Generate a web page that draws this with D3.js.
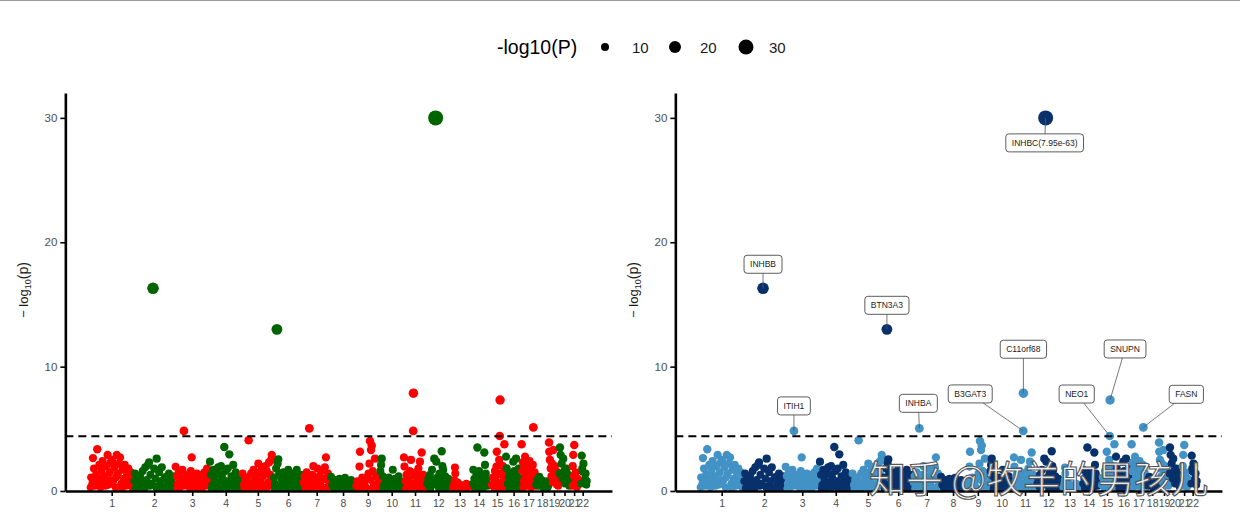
<!DOCTYPE html>
<html>
<head>
<meta charset="utf-8">
<script src="https://cdn.jsdelivr.net/npm/d3@7"></script>
<style>
  body { margin: 0; background: #fff; }
  svg { display: block; font-family: "Liberation Sans", Arial, sans-serif; }
</style>
</head>
<body>
<div id="grafica"></div>
<script>
// datos: cromosomas (GRCh37, Mb)
const chrNames = ["1","2","3","4","5","6","7","8","9","10","11","12","13","14","15","16","17","18","19","20","21","22"];
const chrLengths = [249.25,243.2,198.0,191.15,180.9,171.1,159.1,146.4,141.2,135.5,135.0,133.85,115.2,107.35,102.5,90.35,81.2,78.1,59.1,63.0,48.1,51.3];

// SNPs por cromosoma: [posicion en Mb, -log10(p)]
const chrSnps = [
  [[5,1.1],[12,0.6],[16,2.65],[22,1.8],[28,0.4],[34,1.3],[41,3.35],[47,0.9],[53,2.1],[60,0.3],[66,1.6],[72,2.4],[79,0.7],[85,1.2],[92,2.0],[101,2.9],[108,0.5],[114,1.5],[120,2.3],[126,2.5],[133,0.8],[140,1.9],[147,0.3],[154,2.9],[160,1.4],[166,2.2],[173,2.7],[180,0.6],[187,1.7],[194,1.0],[200,2.1],[207,0.4],[214,1.3],[221,1.8],[228,0.7],[235,1.5],[242,0.9],[247,0.2],[2,0.3],[20,0.8],[38,0.5],[57,1.0],[88,0.4],[117,0.9],[150,1.1],[184,0.2],[211,0.9],[238,0.4]],
  [[6,0.8],[11,1.4],[18,0.3],[25,1.0],[32,0.5],[40,1.2],[48,0.7],[55,1.6],[62,0.4],[70,1.9],[78,0.9],[86,2.1],[92,2.3],[100,1.3],[108,0.6],[115,16.3],[122,1.8],[129,1.0],[136,2.6],[143,0.4],[150,1.5],[158,0.8],[166,1.9],[174,0.3],[182,1.1],[191,1.15],[199,0.6],[207,1.4],[215,0.3],[223,0.9],[231,1.2],[239,0.5],[14,0.2],[36,0.3],[66,0.2],[96,0.4],[133,0.3],[162,0.2],[195,0.3],[227,0.2]],
  [[3,1.95],[9,1.2],[15,0.6],[21,1.5],[28,0.3],[35,1.0],[42,1.7],[51,4.83],[56,0.8],[63,1.3],[70,0.4],[77,1.1],[84,0.7],[91,1.6],[96,2.7],[104,0.5],[111,1.2],[118,0.9],[126,1.4],[133,0.3],[140,1.0],[148,0.6],[155,1.3],[162,0.8],[170,1.5],[178,0.4],[185,1.8],[191,1.1],[196,0.6],[12,0.2],[46,0.4],[88,0.2],[122,0.3],[152,0.2],[174,0.9]],
  [[4,2.36],[10,1.3],[17,0.5],[24,1.7],[31,0.9],[38,1.4],[45,0.3],[52,1.9],[58,0.7],[62,1.35],[68,2.0],[75,1.1],[81,0.4],[87,3.54],[94,1.6],[100,0.8],[107,1.8],[116,2.95],[122,0.6],[128,1.2],[133,0.3],[139,2.1],[146,0.9],[153,1.5],[160,0.4],[167,1.0],[174,0.6],[181,0.3],[188,0.8],[14,0.2],[35,0.3],[72,0.3],[111,0.2],[143,0.3],[171,0.2]],
  [[2,1.4],[9,0.5],[16,0.9],[23,0.3],[30,1.1],[37,4.08],[44,0.6],[51,1.4],[58,0.4],[65,1.7],[72,0.9],[79,1.2],[86,0.5],[93,2.2],[100,1.5],[107,0.8],[114,1.9],[121,1.2],[128,0.4],[135,2.0],[142,1.6],[149,0.7],[155,2.3],[162,1.3],[168,2.5],[171,2.9],[176,1.0],[179,0.5],[12,0.2],[48,0.2],[82,0.3],[118,0.2],[145,0.3],[165,0.9]],
  [[3,1.1],[9,0.6],[15,1.8],[20,13.0],[24,2.2],[28,2.55],[33,1.4],[39,0.4],[45,1.0],[51,0.7],[57,1.5],[63,0.3],[69,1.1],[75,0.8],[81,1.3],[86,1.7],[92,0.5],[98,1.2],[104,0.9],[110,0.4],[116,1.4],[122,0.7],[128,1.1],[135,1.7],[141,0.5],[147,1.0],[153,0.3],[159,1.3],[165,0.8],[169,0.5],[6,0.2],[36,0.2],[66,0.2],[101,0.2],[131,0.3],[156,0.2]],
  [[3,0.7],[9,1.2],[15,0.4],[21,1.5],[27,0.9],[33,0.3],[37,5.04],[42,1.0],[48,0.6],[54,1.3],[60,2.0],[66,0.5],[72,1.1],[78,0.8],[84,1.8],[90,0.4],[96,1.2],[102,0.7],[108,1.6],[114,0.3],[120,1.0],[127,1.9],[133,2.7],[139,0.9],[145,1.4],[151,0.5],[156,0.8],[12,0.2],[45,0.2],[81,0.2],[117,0.2],[142,0.3]],
  [[4,1.15],[10,0.5],[17,0.8],[24,0.3],[31,0.9],[38,0.4],[45,0.7],[52,1.0],[59,0.3],[66,0.6],[73,0.9],[80,0.4],[85,1.07],[92,0.6],[99,0.3],[106,0.8],[113,0.5],[120,0.9],[127,0.3],[134,0.6],[141,0.4],[20,0.2],[48,0.1],[77,0.2],[110,0.1],[137,0.2]],
  [[3,0.4],[9,0.8],[15,0.3],[22,1.96],[25,3.16],[31,0.6],[38,1.1],[45,0.4],[52,0.7],[60,0.3],[67,1.0],[74,1.4],[80,2.2],[83,4.02],[86,0.9],[89,3.3],[93,3.65],[99,1.6],[105,0.5],[112,2.6],[118,1.2],[124,0.4],[130,0.9],[136,0.5],[28,0.2],[56,0.2],[96,0.2],[121,0.2]],
  [[2,1.6],[6,2.1],[10,2.6],[16,1.2],[23,0.5],[30,0.9],[37,0.3],[44,0.7],[51,1.1],[58,0.4],[65,0.8],[74,1.7],[80,0.5],[87,1.0],[94,0.3],[101,0.7],[108,1.2],[115,0.4],[122,0.8],[129,0.5],[134,0.3],[20,0.2],[48,0.2],[84,0.2],[112,0.2]],
  [[3,2.7],[6,1.96],[12,0.8],[18,1.3],[24,0.4],[30,1.0],[37,1.6],[44,2.5],[50,0.6],[57,4.83],[58,7.86],[63,1.2],[69,0.5],[75,1.5],[81,0.9],[87,1.8],[92,0.3],[96,2.36],[101,1.1],[106,3.1],[111,0.6],[115,1.3],[121,0.8],[127,0.4],[132,1.0],[15,0.2],[40,0.3],[66,0.2],[90,0.9],[118,0.2]],
  [[3,0.6],[9,1.0],[14,0.4],[19,1.3],[25,0.8],[31,1.7],[37,0.5],[44,2.6],[52,30],[56,2.36],[62,1.1],[68,0.6],[74,1.4],[80,0.9],[87,3.2],[91,2.0],[96,1.7],[102,0.5],[108,1.2],[114,0.8],[120,0.3],[126,1.0],[131,0.6],[22,0.2],[48,0.9],[71,0.2],[99,0.2],[117,0.2]],
  [[20,0.3],[26,0.6],[28,0.88],[30,1.88],[32,1.4],[38,0.4],[46,0.7],[55,0.3],[64,0.5],[73,0.2],[82,0.4],[88,0.35],[96,0.6],[104,0.3],[111,0.5],[42,0.2],[60,0.1],[92,0.2]],
  [[20,0.6],[21,1.7],[27,1.0],[33,0.4],[39,1.3],[45,3.5],[50,0.8],[55,1.6],[60,1.15],[66,0.5],[72,1.2],[78,0.7],[85,3.1],[89,2.1],[94,1.4],[99,0.9],[104,0.4],[30,0.2],[63,0.2],[82,0.3]],
  [[21,0.5],[27,1.1],[33,0.4],[39,1.6],[44,0.8],[48,1.96],[50,3.16],[55,1.3],[60,0.6],[64,2.5],[67,4.42],[69,7.32],[74,1.4],[79,0.7],[84,2.0],[89,1.1],[94,3.75],[98,0.5],[101,1.5],[36,0.2],[58,0.2],[86,0.3]],
  [[1,2.76],[5,1.82],[11,0.6],[17,1.1],[24,1.4],[30,0.4],[36,0.9],[43,2.36],[49,1.6],[54,0.5],[59,2.6],[64,1.2],[70,0.7],[75,1.8],[81,0.4],[86,1.0],[20,0.2],[46,0.2],[67,0.2]],
  [[1,3.75],[5,1.6],[9,2.3],[13,0.8],[17,1.9],[21,2.76],[25,1.3],[28,2.0],[31,2.2],[35,1.0],[39,1.7],[43,0.5],[47,2.4],[51,1.2],[55,1.8],[59,0.7],[63,1.4],[66,2.1],[69,5.12],[73,0.9],[77,1.5],[80,0.4],[11,0.3],[33,0.4],[57,0.3]],
  [[3,0.5],[10,0.9],[17,0.4],[23,1.15],[30,0.6],[37,0.88],[44,0.3],[51,0.7],[58,0.4],[65,0.8],[72,0.3],[76,0.5]],
  [[1,3.9],[2,3.16],[6,2.5],[10,1.8],[14,1.2],[18,2.2],[22,0.7],[26,3.3],[30,1.5],[34,2.0],[38,0.9],[42,1.6],[46,0.5],[50,1.1],[54,0.4],[57,0.8]],
  [[3,1.4],[5,3.5],[9,2.9],[15,2.2],[20,1.0],[24,2.6],[29,1.6],[34,0.6],[39,1.2],[44,1.8],[49,0.8],[54,1.3],[59,0.4],[62,0.9]],
  [[15,0.4],[16,2.0],[19,2.9],[22,1.2],[25,3.7],[29,0.6],[33,1.5],[37,0.8],[41,0.3],[45,1.0]],
  [[17,0.6],[20,2.84],[23,1.8],[26,1.55],[30,2.2],[34,0.7],[39,1.0],[43,1.4],[47,0.5],[50,0.8]]
];

// genes anotados (panel derecho)
const labelText = ["INHBC(7.95e-63)","INHBB","BTN3A3","ITIH1","INHBA","B3GAT3","C11orf68","NEO1","SNUPN","FASN"];
const labelChr  = [12, 2, 6, 3, 7, 11, 11, 15, 15, 17];
const labelPos  = [52, 115, 20, 51, 37, 57, 58, 67, 69, 69];
const labelLogP = [30, 16.3, 13.0, 4.83, 5.04, 4.83, 7.86, 4.42, 7.32, 5.12];
// desplazamiento de las etiquetas (px) como las coloca ggrepel
const labelDx = [-1, 0, 0, 0, -1, -53, 0, -33, 15, 43];
const labelDy = [25, -24, -24, -25, -25, -37, -44, -42, -51, -33];

const legendValues = [10, 20, 30];
const yTicks = [0, 10, 20, 30];
const threshold = 4.41;

// parametros de la grafica
const W = 1240, H = 529;
const panelTop = 93, panelBottom = 491;
const panelLeft = 65.35, panelRight = 611.95;
const panelOffset = 610;

const leftColors = ["#FF0000", "#006400"];
const rightColors = ["#4292C6", "#08306B"];

const chrStart = [0].concat(Array.from(d3.cumsum(chrLengths))).slice(0, chrLengths.length);
const genomeLength = d3.sum(chrLengths);
const chrCenter = chrLengths.map((l, i) => chrStart[i] + l / 2);
const expand = genomeLength * 0.05;

const points = [];
chrSnps.forEach((arr, i) => {
  arr.forEach(d => points.push({ chr: i, bp: chrStart[i] + d[0], logp: d[1] }));
});

const yScale = d3.scaleLinear().domain([0, 32]).range([panelBottom, panelTop]);
const rScale = d3.scaleLinear().domain([0, 30]).range([3.8, 7.5]);
// radios de la leyenda
const legendR = d3.scaleSqrt().domain([10, 30]).range([4, 7.5]);

const svg = d3.select("#grafica").append("svg")
  .attr("width", W).attr("height", H);

svg.append("line")
  .attr("x1", 0).attr("x2", W).attr("y1", 0.5).attr("y2", 0.5)
  .attr("stroke", "#9a9a9a").attr("stroke-width", 1);

function drawPanel(offset, colors, withLabels, id) {
  const xScale = d3.scaleLinear()
    .domain([-expand, genomeLength + expand])
    .range([panelLeft + offset, panelRight + offset]);

  const g = svg.append("g");

  g.append("clipPath").attr("id", "clip" + id)
    .append("rect")
    .attr("x", panelLeft + offset).attr("y", panelTop)
    .attr("width", panelRight - panelLeft).attr("height", panelBottom - panelTop);

  g.append("g").attr("clip-path", `url(#clip${id})`)
    .selectAll("circle")
    .data(points)
    .enter().append("circle")
    .attr("cx", d => xScale(d.bp))
    .attr("cy", d => yScale(d.logp))
    .attr("r", d => rScale(d.logp))
    .attr("fill", d => colors[d.chr % 2]);

  g.append("line")
    .attr("x1", panelLeft + offset).attr("x2", panelRight + offset)
    .attr("y1", yScale(threshold)).attr("y2", yScale(threshold))
    .attr("stroke", "#000").attr("stroke-width", 2)
    .attr("stroke-dasharray", "8,5");

  const yAxis = d3.axisLeft(yScale).tickValues(yTicks).tickSize(5).tickSizeOuter(0).tickPadding(3);
  const xAxis = d3.axisBottom(xScale).tickValues(chrCenter)
    .tickFormat((d, i) => chrNames[i]).tickSize(5).tickSizeOuter(0).tickPadding(4);

  const ya = g.append("g")
    .attr("transform", `translate(${panelLeft + offset},0)`)
    .call(yAxis);
  const xa = g.append("g")
    .attr("transform", `translate(0,${panelBottom})`)
    .call(xAxis);

  [ya, xa].forEach(a => {
    a.select(".domain").attr("stroke", "#000").attr("stroke-width", 2.6);
    a.selectAll(".tick line").attr("stroke", "#000").attr("stroke-width", 1.6);
    a.selectAll(".tick text").attr("fill", "#4d4d4d")
      .style("font-family", "'Liberation Sans', Arial, sans-serif");
  });
  ya.selectAll(".tick text").style("font-size", "11.5px");
  xa.selectAll(".tick text").style("font-size", "10.5px");

  // titulo del eje y
  const yt = g.append("text")
    .attr("transform", `translate(${28 + offset},290) rotate(-90)`)
    .attr("text-anchor", "middle")
    .attr("fill", "#1a1a1a")
    .style("font-size", "13px");
  yt.append("tspan").text("\u2212 log");
  yt.append("tspan").attr("dy", 3).style("font-size", "9px").text("10");
  yt.append("tspan").attr("dy", -3).style("font-size", "14px").text("(p)");

  if (withLabels) {
    const lab = g.append("g");
    labelText.forEach((t, i) => {
      const c = labelChr[i] - 1;
      const px = xScale(chrStart[c] + labelPos[i]);
      const py = yScale(labelLogP[i]);
      const bx = px + labelDx[i], by = py + labelDy[i];
      const grp = lab.append("g");
      const seg = grp.append("line");
      const rect = grp.append("rect");
      const txt = grp.append("text")
        .attr("x", bx).attr("y", by + 3)
        .attr("text-anchor", "middle")
        .attr("fill", "#222")
        .style("font-size", "8.5px")
        .text(t);
      const tw = txt.node().getComputedTextLength();
      const bw = tw + 12, bh = 18;
      rect.attr("x", bx - bw / 2).attr("y", by - bh / 2)
        .attr("width", bw).attr("height", bh)
        .attr("rx", 3).attr("ry", 3)
        .attr("fill", "#fff").attr("stroke", "#333").attr("stroke-width", 0.8);
      // segmento desde el borde de la caja hasta el punto
      const dx = px - bx, dy = py - by;
      const s = Math.min(
        dx !== 0 ? (bw / 2) / Math.abs(dx) : Infinity,
        dy !== 0 ? (bh / 2) / Math.abs(dy) : Infinity);
      const ex = bx + dx * s, ey = by + dy * s;
      seg.attr("x1", ex).attr("y1", ey).attr("x2", px).attr("y2", py)
        .attr("stroke", "#555").attr("stroke-width", 0.8);
    });
  }
}

drawPanel(0, leftColors, false, "a");
drawPanel(panelOffset, rightColors, true, "b");

// leyenda
const legend = svg.append("g");
legend.append("text")
  .attr("x", 497).attr("y", 54)
  .attr("fill", "#000")
  .style("font-size", "19.5px")
  .text("-log10(P)");
const legendX = [605, 675, 746];
const legendTextX = [632, 700, 769];
legendValues.forEach((v, i) => {
  legend.append("circle")
    .attr("cx", legendX[i]).attr("cy", 47)
    .attr("r", legendR(v))
    .attr("fill", "#000");
  legend.append("text")
    .attr("x", legendTextX[i]).attr("y", 52.5)
    .attr("fill", "#1a1a1a")
    .style("font-size", "15px")
    .text(v);
});

// marca de agua
svg.append("text")
  .attr("x", 869).attr("y", 493)
  .attr("fill", "#fff")
  .attr("fill-opacity", 0.9)
  .attr("stroke", "#555")
  .attr("stroke-width", 1.1)
  .style("font-family", "'Noto Sans CJK SC', sans-serif")
  .style("font-size", "37px")
  .text("知乎 @牧羊的男孩儿");
</script>
</body>
</html>
